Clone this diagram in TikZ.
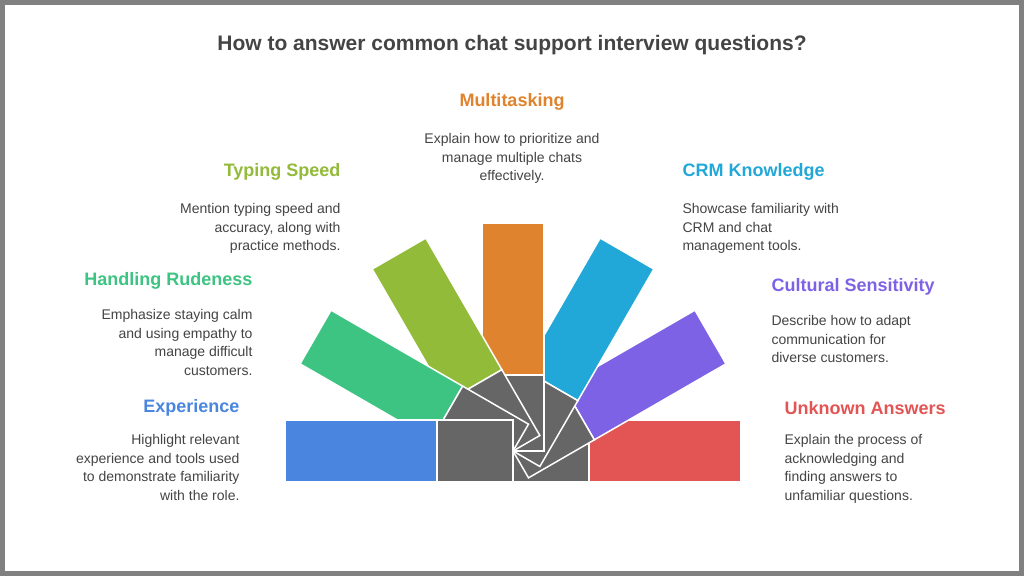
\documentclass[tikz,border=0pt]{standalone}
\usepackage{fontspec}
\setmainfont{Liberation Sans}
\definecolor{cblue}{HTML}{4A86E0}
\definecolor{cgreen}{HTML}{3EC482}
\definecolor{colive}{HTML}{93BB3A}
\definecolor{corange}{HTML}{E0832E}
\definecolor{ccyan}{HTML}{22A8D8}
\definecolor{cpurple}{HTML}{7E62E6}
\definecolor{cred}{HTML}{E35454}
\definecolor{cgrey}{HTML}{666666}
\definecolor{ctext}{HTML}{444444}
\begin{document}
\begin{tikzpicture}[x=1pt,y=1pt,
  head/.style={font=\fontsize{18}{21}\selectfont\bfseries},
  body/.style={font=\fontsize{14}{18.5}\selectfont, text=ctext},
  arm/.style={draw=white, line width=1.5pt}]
\useasboundingbox (0,0) rectangle (1024,576);
\fill[white] (0,0) rectangle (1024,576);
\draw[gray, line width=5pt] (2.5,2.5) rectangle (1021.5,573.5);
\node[font=\fontsize{21}{24}\selectfont\bfseries, text=ctext] (title) at (512,531) {How to answer common chat support interview questions?};
% arms
\foreach \a/\c in {0/cred,30/cpurple,60/ccyan,90/corange,120/colive,150/cgreen,180/cblue}{
  \begin{scope}[shift={(513,125)}, rotate=\a]
    \filldraw[arm, fill=\c] (76,-31) rectangle (228,31);
    \filldraw[arm, fill=cgrey] (0,-31) rectangle (76,31);
  \end{scope}
}
\coordinate (hub) at (513,125);
% texts
\node[head, text=corange] (h4) at (512,474) {Multitasking};
\node[body, align=center, anchor=north] (b4) at (512,446) {Explain how to prioritize and\\manage multiple chats\\effectively.};
\node[head, text=colive, anchor=east] (h3) at (344,404) {Typing Speed};
\node[body, align=right, anchor=north east] (b3) at (344,376) {Mention typing speed and\\accuracy, along with\\practice methods.};
\node[head, text=cgreen, anchor=east] (h2) at (256,295) {Handling Rudeness};
\node[body, align=right, anchor=north east] (b2) at (256,270) {Emphasize staying calm\\and using empathy to\\manage difficult\\customers.};
\node[head, text=cblue, anchor=east] (h1) at (243,168) {Experience};
\node[body, align=right, anchor=north east] (b1) at (243,145) {Highlight relevant\\experience and tools used\\to demonstrate familiarity\\with the role.};
\node[head, text=ccyan, anchor=west] (h5) at (679,404) {CRM Knowledge};
\node[body, align=left, anchor=north west] (b5) at (679,376) {Showcase familiarity with\\CRM and chat\\management tools.};
\node[head, text=cpurple, anchor=west] (h6) at (768,289) {Cultural Sensitivity};
\node[body, align=left, anchor=north west] (b6) at (768,264) {Describe how to adapt\\communication for\\diverse customers.};
\node[head, text=cred, anchor=west] (h7) at (781,168) {Unknown Answers};
\node[body, align=left, anchor=north west] (b7) at (781,145) {Explain the process of\\acknowledging and\\finding answers to\\unfamiliar questions.};
\end{tikzpicture}
\end{document}
